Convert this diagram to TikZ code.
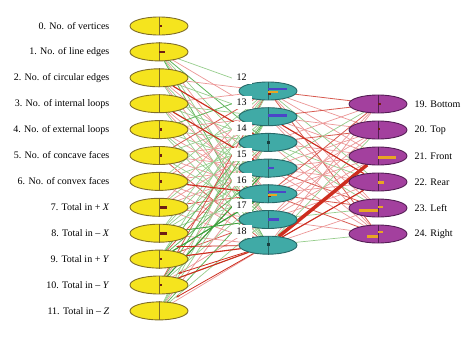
\documentclass[tikz,border=0pt]{standalone}
\usepackage{fontspec}
\setmainfont{Liberation Serif}
\usetikzlibrary{shapes.geometric,arrows.meta,positioning,backgrounds}
\definecolor{nodeyellow}{RGB}{245,228,30}
\definecolor{edgeyellow}{RGB}{128,110,40}
\definecolor{nodeteal}{RGB}{64,170,166}
\definecolor{edgeteal}{RGB}{40,105,105}
\definecolor{nodepurple}{RGB}{163,64,158}
\definecolor{edgepurple}{RGB}{85,30,85}
\definecolor{lightred}{RGB}{235,150,150}
\definecolor{lightgreen}{RGB}{150,205,140}
\definecolor{midred}{RGB}{215,90,80}
\definecolor{midgreen}{RGB}{95,180,90}
\definecolor{darkred}{RGB}{205,45,30}
\definecolor{darkgreen}{RGB}{60,160,60}
\definecolor{barblue}{RGB}{75,70,200}
\definecolor{barorange}{RGB}{232,165,35}
\definecolor{barbrown}{RGB}{110,30,20}

\begin{document}
\begin{tikzpicture}[
    x=1pt, y=-1pt,
    neuron/.style={ellipse, minimum width=58pt, minimum height=18pt,
                   inner sep=0pt, line width=0.9pt},
    inneuron/.style={neuron, fill=nodeyellow, draw=edgeyellow},
    hidneuron/.style={neuron, fill=nodeteal, draw=edgeteal},
    outneuron/.style={neuron, fill=nodepurple, draw=edgepurple},
    lab/.style={font=\fontsize{10}{11}\selectfont, inner sep=1pt},
    hlab/.style={lab, fill=white, minimum width=20pt, minimum height=13pt},
    wpos/.style={lightred, line width=0.7pt},
    wneg/.style={lightgreen, line width=0.7pt},
    mpos/.style={midred, line width=0.8pt},
    mneg/.style={midgreen, line width=0.8pt},
    spos/.style={darkred, line width=1.1pt},
    sneg/.style={darkgreen, line width=1.1pt},
    arr/.style={darkred, line width=0.8pt, -{Stealth[length=3.5pt]}}
]
    \useasboundingbox (0,0) rectangle (474,338);

    % Input layer
    \foreach \i/\t in {0/{0. No. of vertices}, 1/{1. No. of line edges},
        2/{2. No. of circular edges}, 3/{3. No. of internal loops},
        4/{4. No. of external loops}, 5/{5. No. of concave faces},
        6/{6. No. of convex faces}, 7/{7. Total in + \textit{X}},
        8/{8. Total in -- \textit{X}}, 9/{9. Total in + \textit{Y}},
        10/{10. Total in -- \textit{Y}}, 11/{11. Total in -- \textit{Z}}}{
        \node[inneuron] (in\i) at (159,{26+25.9*\i}) {};
        \draw[edgeyellow, line width=0.8pt] (in\i.north) -- (in\i.south);
        \node[lab, left=19pt of in\i] (lin\i) {\t};
    }

    % Hidden layer
    \foreach \j [count=\n from 0] in {12,...,18}{
        \node[hidneuron] (h\j) at (268,{91+25.7*\n}) {};
        \draw[edgeteal, line width=0.8pt] (h\j.north) -- (h\j.south);
        \node[hlab] (lh\j) at ([xshift=3pt,yshift=14pt]h\j.west) {\j};
    }

    % Output layer
    \foreach \k/\t [count=\n from 0] in {19/Bottom, 20/Top, 21/Front,
        22/Rear, 23/Left, 24/Right}{
        \node[outneuron] (o\k) at (378,{104+26*\n}) {};
        \draw[edgepurple, line width=0.8pt] (o\k.north) -- (o\k.south);
        \node[lab, right=6pt of o\k] (lo\k) {\k. \t};
    }

    % Weight bars inside the neurons
    \fill[barbrown] (159,50.8) rectangle (165,53.2);
    \foreach \i in {0,4,5,6,9,10}
        \fill[barbrown] (159.5,{24.8+25.9*\i}) rectangle (161.5,{27.2+25.9*\i});
    \fill[barbrown] (160,206.3) rectangle (167,208.7);
    \fill[barbrown] (160,232.2) rectangle (167,234.6);
    \fill[barblue] (268,87.5) rectangle (287,90);
    \fill[barorange] (268,90.5) rectangle (278,92.5);
    \fill[barbrown] (268,92.5) rectangle (271,94.5);
    \fill[barblue] (268,114) rectangle (287,116.5);
    \fill[edgeteal!60!black] (267,141) rectangle (269.5,144);
    \fill[barblue] (268,167) rectangle (274,169);
    \fill[barblue] (268,190.5) rectangle (286,193);
    \fill[barorange] (268,193.5) rectangle (277,195.5);
    \fill[barbrown] (268,195.5) rectangle (271,197);
    \fill[barblue] (268,218) rectangle (279,220.5);
    \fill[edgeteal!60!black] (267,243) rectangle (269.5,246);
    \fill[barbrown] (378,102.5) rectangle (380.5,104.5);
    \fill[barbrown] (378,127.5) rectangle (380,130);
    \fill[barorange] (378,156) rectangle (396,158.5);
    \fill[barorange] (378,181) rectangle (384,183.5);
    \fill[barorange] (359,209) rectangle (378,211.5);
    \fill[barorange] (378,206) rectangle (383,208);
    \fill[barorange] (367,235) rectangle (378,237.5);
    \fill[barorange] (378,231) rectangle (383,233);

    % Connections, behind the neurons
    \begin{scope}[on background layer]
        \pgfmathsetseed{7}
        \foreach \i in {1,...,11}
            \foreach \j in {12,...,18}{
                \pgfmathrandominteger{\w}{0}{5}
                \ifcase\w \draw[wpos] (in\i.center) -- (h\j.center);
                \or \draw[wpos] (in\i.center) -- (h\j.center);
                \or \draw[wneg] (in\i.center) -- (h\j.center);
                \or \draw[wneg] (in\i.center) -- (h\j.center);
                \or \draw[mpos] (in\i.center) -- (h\j.center);
                \or \draw[mneg] (in\i.center) -- (h\j.center);
                \fi
            }
        \foreach \j in {12,...,18}
            \foreach \k in {19,...,24}{
                \pgfmathrandominteger{\w}{0}{4}
                \ifcase\w \draw[wpos] (h\j.center) -- (o\k.center);
                \or \draw[wpos] (h\j.center) -- (o\k.center);
                \or \draw[mpos] (h\j.center) -- (o\k.center);
                \or \draw[wneg] (h\j.center) -- (o\k.center);
                \or \draw[wpos] (h\j.center) -- (o\k.center);
                \fi
            }
        % strong weights
        \draw[spos] (in2) -- (h14);
        \draw[spos] (in3) -- (h15);
        \draw[spos] (in6) -- (h16);
        \draw[sneg] (in9) -- (h16);
        \draw[sneg] (in10) -- (h15);
        \draw[sneg, line width=0.8pt] (in8) -- (h17);
        \draw[spos] (in9) -- (h18);
        \draw[spos] (in10) -- (h18);
        \draw[spos] (h13) -- (o22);
        \draw[spos] (h18) -- (o22);
        \draw[darkred, line width=3.5pt] (h18) -- (o21);
        % bias arrows
        \coordinate (t9) at ([xshift=17pt,yshift=3pt]in9.north);
        \coordinate (t10) at ([xshift=19pt,yshift=2pt]in10.north);
        \coordinate (t11) at ([xshift=17pt,yshift=4pt]in11.north);
        \draw[arr] (h18) -- (t9);
        \draw[arr] (h18) -- (t10);
        \draw[arr] (h18) -- (t11);
    \end{scope}
\end{tikzpicture}
\end{document}
